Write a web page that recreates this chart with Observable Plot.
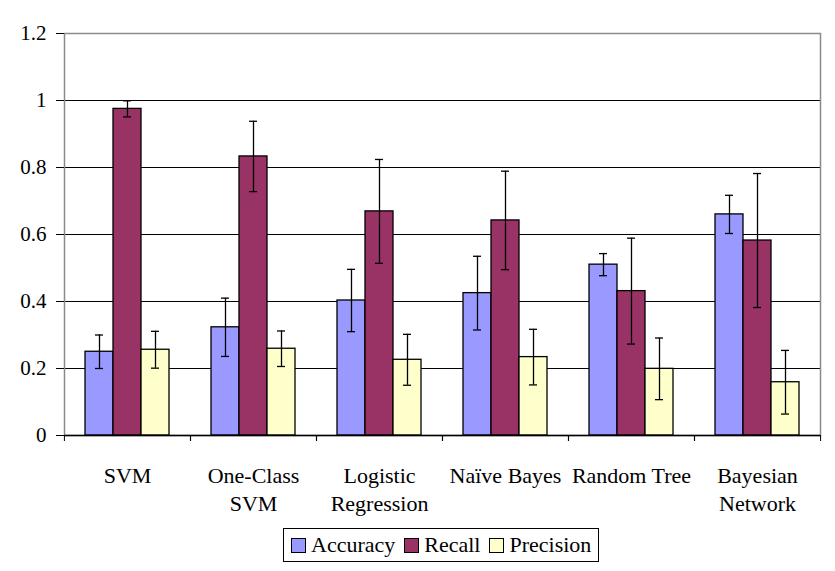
<!DOCTYPE html>
<html><head><meta charset="utf-8">
<script src="https://cdn.jsdelivr.net/npm/d3@7"></script>
<script src="https://cdn.jsdelivr.net/npm/@observablehq/plot@0.6"></script>
<style>
body{margin:0;background:#fff;font-family:'Liberation Serif',serif;}
#wrap{position:relative;width:835px;height:571px;}
#chart svg, #chart svg text{font-family:'Liberation Serif',serif !important;}
#legend{position:absolute;left:283px;top:528px;width:316px;height:34px;box-sizing:border-box;border:1px solid #000;display:flex;align-items:center;padding-left:7px;font-size:22px;color:#000;font-family:'Liberation Serif',serif;}
.sw{width:15px;height:15px;border:1px solid #000;box-sizing:border-box;margin-right:5px;}
.it{display:flex;align-items:center;margin-right:9px;}
</style></head><body><div id="wrap"><div id="chart"></div><div id="legend"></div></div>
<script>
const models = ["SVM","One-Class\nSVM","Logistic\nRegression","Naïve Bayes","Random Tree","Bayesian\nNetwork"];
const metrics = ["Accuracy","Recall","Precision"];
const colors = ["#9999FF","#993366","#FFFFCC"];
const accuracy = [0.25,0.323,0.403,0.425,0.51,0.66];
const accuracyErr = [0.05,0.087,0.093,0.11,0.033,0.057];
const recall = [0.975,0.833,0.669,0.642,0.431,0.582];
const recallErr = [0.024,0.105,0.155,0.147,0.158,0.2];
const precision = [0.256,0.259,0.226,0.234,0.199,0.159];
const precisionErr = [0.055,0.053,0.076,0.083,0.092,0.095];
const yTicks = [0,0.2,0.4,0.6,0.8,1,1.2];
const gridTicks = [0.2,0.4,0.6,0.8,1];

const data = models.flatMap((m,i)=>[
  {model:m, metric:"Accuracy", value:accuracy[i], err:accuracyErr[i]},
  {model:m, metric:"Recall", value:recall[i], err:recallErr[i]},
  {model:m, metric:"Precision", value:precision[i], err:precisionErr[i]}
]);

const W=835,H=520,mL=63,mR=15,mT=33,mB=85;
const band=(W-mL-mR)/models.length;

const chart = Plot.plot({
  width:W,height:H,marginLeft:mL,marginRight:mR,marginTop:mT,marginBottom:mB,
  style:{fontFamily:"'Liberation Serif', serif",fontSize:"21px",color:"#000",background:"#fff"},
  fx:{domain:models,padding:0,label:null},
  x:{domain:metrics,paddingInner:0,paddingOuter:0.75,axis:null},
  y:{domain:[0,1.2],label:null},
  color:{domain:metrics,range:colors},
  marks:[
    Plot.ruleY(gridTicks,{stroke:"#000",strokeWidth:1}),
    Plot.frame({facet:"super",stroke:"#8a8a8a",strokeWidth:1.5}),
    Plot.barY(data,{fx:"model",x:"metric",y:"value",fill:"metric",stroke:"#000",strokeWidth:1.3}),
    Plot.ruleX(data,{fx:"model",x:"metric",y1:d=>d.value-d.err,y2:d=>d.value+d.err,stroke:"#000",strokeWidth:1.3}),
    Plot.tickY(data,{fx:"model",x:"metric",y:d=>d.value-d.err,insetLeft:10,insetRight:10,stroke:"#000",strokeWidth:1.3}),
    Plot.tickY(data,{fx:"model",x:"metric",y:d=>d.value+d.err,insetLeft:10,insetRight:10,stroke:"#000",strokeWidth:1.3}),
    Plot.ruleY([0],{stroke:"#000",strokeWidth:1.3}),
    Plot.axisY({ticks:yTicks,tickSize:8,tickPadding:10,tickFormat:d3.format("~g"),fontSize:21,label:null}),
    Plot.axisFx({anchor:"bottom",tickSize:0,tickPadding:28,lineHeight:1.27,fontSize:22,label:null}),
    Plot.axisFx({anchor:"bottom",tickSize:6,dx:-band/2,tickFormat:()=>"",label:null}),
    Plot.axisFx({anchor:"bottom",tickSize:6,dx:band/2,tickFormat:()=>"",label:null})
  ]
});
document.getElementById("chart").append(chart);

const legend = document.getElementById("legend");
metrics.forEach((m,i)=>{
  const it=document.createElement("div");it.className="it";
  const sw=document.createElement("div");sw.className="sw";sw.style.background=colors[i];
  const t=document.createElement("span");t.textContent=m;
  it.append(sw,t);legend.append(it);
});
</script></body></html>
